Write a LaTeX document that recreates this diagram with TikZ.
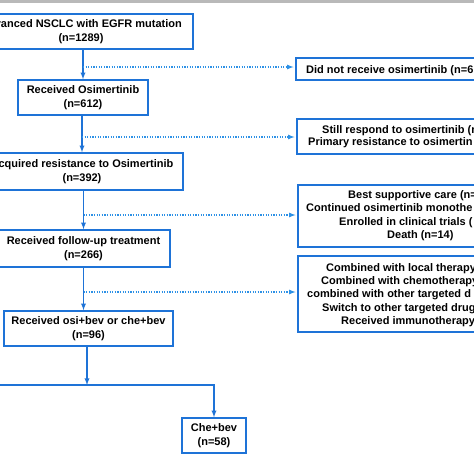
\documentclass[tikz,border=0pt]{standalone}
\usepackage{fontspec}
\setmainfont{Liberation Sans}
\usetikzlibrary{arrows}
\definecolor{boxblue}{RGB}{30,115,215}
\definecolor{dotblue}{RGB}{45,145,230}

\begin{document}
\begin{tikzpicture}[x=1pt,y=-1pt,
    font=\fontsize{11}{14}\selectfont\bfseries,
    mainbox/.style={draw=boxblue,line width=1.6pt,align=center,inner sep=0pt},
    sidebox/.style={draw=boxblue,line width=1.6pt,anchor=north west,minimum width=260pt,inner sep=0pt},
    sidetext/.style={anchor=base west,inner sep=0pt},
    flow/.style={draw=boxblue,line width=1.3pt,-latex},
    side/.style={draw=dotblue,line width=1.2pt,dash pattern=on 1.2pt off 1.4pt,-latex,shorten >=1.5pt}]
       \useasboundingbox (0,0) rectangle (474,474);
       \clip (0,0) rectangle (474,474);
       \fill[white] (0,0) rectangle (474,474);
       \fill[gray!55] (0,0) rectangle (474,2.5);
       % Draw main boxes
       \node[mainbox,minimum width=224pt,minimum height=35pt] (adv) at (81,31.5) {Advanced NSCLC with EGFR mutation\\(n=1289)};
       \node[mainbox,minimum width=130pt,minimum height=35pt] (osi) at (83,97.5) {Received Osimertinib\\(n=612)};
       \node[mainbox,minimum width=202pt,minimum height=37pt] (acq) at (82,171.5) {Acquired resistance to Osimertinib\\(n=392)};
       \node[mainbox,minimum width=173pt,minimum height=37pt] (fu) at (83.5,248.5) {Received follow-up treatment\\(n=266)};
       \node[mainbox,minimum width=169pt,minimum height=35pt] (bev) at (88.5,328.5) {Received osi+bev or che+bev\\(n=96)};
       \node[mainbox,minimum width=64pt,minimum height=35pt] (che) at (214,435.5) {Che+bev\\(n=58)};

       % Draw side boxes
       \node[sidebox,minimum height=22pt] (nosi) at (295,57) {};
       \node[sidebox,minimum height=35pt] (resp) at (296,118) {};
       \node[sidebox,minimum height=62pt] (supp) at (297,184) {};
       \node[sidebox,minimum height=76pt] (comb) at (297,255) {};

       \node[sidetext] (nosi1) at (306,73) {Did not receive osimertinib (n=6};
       \node[sidetext] (resp1) at (322,133) {Still respond to osimertinib (n};
       \node[sidetext] (resp2) at (308,145) {Primary resistance to osimertin};
       \node[sidetext] (supp1) at (348,198) {Best supportive care (n=};
       \node[sidetext] (supp2) at (306,211) {Continued osimertinib monothe};
       \node[sidetext] (supp3) at (339,225) {Enrolled in clinical trials (};
       \node[sidetext] (supp4) at (387,238) {Death (n=14)};
       \node[sidetext] (comb1) at (326,271) {Combined with local therapy};
       \node[sidetext] (comb2) at (321,284) {Combined with chemotherapy};
       \node[sidetext] (comb3) at (307,297) {combined with other targeted d};
       \node[sidetext] (comb4) at (322,311) {Switch to other targeted drug};
       \node[sidetext] (comb5) at (341,324) {Received immunotherapy};

       % Draw main flow
       \draw[flow] (osi.north |- adv.south) -- (osi.north);
       \draw[flow] (acq.north |- osi.south) -- (acq.north);
       \draw[flow] (fu.north |- acq.south) -- (fu.north);
       \draw[flow] (fu.south) -- (fu.south |- bev.north);

       % Draw dotted branches
       \coordinate (b1) at (83,67);
       \coordinate (b2) at (82,137);
       \coordinate (b3) at (83.5,215);
       \coordinate (b4) at (83.5,292);
       \draw[side] (b1) -- (b1 -| nosi.west);
       \draw[side] (b2) -- (b2 -| resp.west);
       \draw[side] (b3) -- (b3 -| supp.west);
       \draw[side] (b4) -- (b4 -| comb.west);

       % Draw split to the bottom
       \coordinate (split) at (87,385);
       \coordinate (lend) at (-5,385);
       \draw[flow] (split |- bev.south) -- (split);
       \draw[flow] (lend) -| (che.north);
\end{tikzpicture}
\end{document}
